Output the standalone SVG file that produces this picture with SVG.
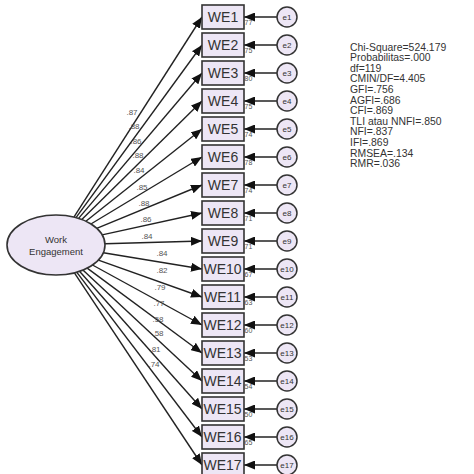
<svg xmlns="http://www.w3.org/2000/svg" width="474" height="474" viewBox="0 0 474 474">
<defs>
<marker id="ah" markerUnits="userSpaceOnUse" markerWidth="11" markerHeight="9" refX="11" refY="4.5" orient="auto"><path d="M0,0 L11,4.5 L0,9 z" fill="#111"/></marker>
<style>
.ln{stroke:#222;stroke-width:1.4;fill:none;marker-end:url(#ah)}
.bx{fill:#ede6f5;stroke:#333;stroke-width:1.6}
.er{fill:#ede6f5;stroke:#333;stroke-width:1.5}
.bt{font-family:"Liberation Sans",Arial,sans-serif;font-size:14px;fill:#333;text-anchor:middle}
.et{font-family:"Liberation Sans",Arial,sans-serif;font-size:8px;fill:#333;text-anchor:middle}
.lt{font-family:"Liberation Sans",Arial,sans-serif;font-size:9.5px;fill:#333;text-anchor:middle}
.lb{font-family:"Liberation Sans",Arial,sans-serif;font-size:8px;fill:#555;text-anchor:middle}
.sv{font-family:"Liberation Sans",Arial,sans-serif;font-size:7px;fill:#555}
.st{font-family:"Liberation Sans",Arial,sans-serif;font-size:10.4px;fill:#333}
</style>
</defs>
<rect width="474" height="474" fill="#fff"/>
<g id="connectors">
<line class="ln" x1="73.9" y1="217.1" x2="202" y2="17"/>
<line class="ln" x1="76.0" y1="217.6" x2="202" y2="45"/>
<line class="ln" x1="78.6" y1="218.4" x2="202" y2="73"/>
<line class="ln" x1="81.8" y1="219.5" x2="202" y2="101"/>
<line class="ln" x1="85.9" y1="221.2" x2="202" y2="129"/>
<line class="ln" x1="90.9" y1="224.0" x2="202" y2="157"/>
<line class="ln" x1="96.7" y1="228.3" x2="202" y2="185"/>
<line class="ln" x1="102.1" y1="234.9" x2="202" y2="213"/>
<line class="ln" x1="105.0" y1="243.7" x2="202" y2="241"/>
<line class="ln" x1="103.3" y1="252.8" x2="202" y2="269"/>
<line class="ln" x1="98.4" y1="260.1" x2="202" y2="297"/>
<line class="ln" x1="92.5" y1="265.0" x2="202" y2="325"/>
<line class="ln" x1="87.2" y1="268.1" x2="202" y2="353"/>
<line class="ln" x1="82.9" y1="270.1" x2="202" y2="381"/>
<line class="ln" x1="79.5" y1="271.3" x2="202" y2="409"/>
<line class="ln" x1="76.7" y1="272.2" x2="202" y2="437"/>
<line class="ln" x1="74.4" y1="272.8" x2="202" y2="465"/>
<line class="ln" x1="277" y1="17" x2="244" y2="17"/>
<line class="ln" x1="277" y1="45" x2="244" y2="45"/>
<line class="ln" x1="277" y1="73" x2="244" y2="73"/>
<line class="ln" x1="277" y1="101" x2="244" y2="101"/>
<line class="ln" x1="277" y1="129" x2="244" y2="129"/>
<line class="ln" x1="277" y1="157" x2="244" y2="157"/>
<line class="ln" x1="277" y1="185" x2="244" y2="185"/>
<line class="ln" x1="277" y1="213" x2="244" y2="213"/>
<line class="ln" x1="277" y1="241" x2="244" y2="241"/>
<line class="ln" x1="277" y1="269" x2="244" y2="269"/>
<line class="ln" x1="277" y1="297" x2="244" y2="297"/>
<line class="ln" x1="277" y1="325" x2="244" y2="325"/>
<line class="ln" x1="277" y1="353" x2="244" y2="353"/>
<line class="ln" x1="277" y1="381" x2="244" y2="381"/>
<line class="ln" x1="277" y1="409" x2="244" y2="409"/>
<line class="ln" x1="277" y1="437" x2="244" y2="437"/>
<line class="ln" x1="277" y1="465" x2="244" y2="465"/>
<g id="loadings">
<text class="lb" x="132" y="115">.87</text>
<text class="lb" x="134" y="129">.88</text>
<text class="lb" x="136" y="144">.86</text>
<text class="lb" x="138" y="158">.88</text>
<text class="lb" x="139" y="173">.84</text>
<text class="lb" x="142" y="190">.85</text>
<text class="lb" x="144" y="206">.88</text>
<text class="lb" x="146" y="222">.86</text>
<text class="lb" x="147" y="239">.84</text>
<text class="lb" x="162" y="256">.84</text>
<text class="lb" x="162" y="273">.82</text>
<text class="lb" x="160" y="290">.79</text>
<text class="lb" x="159" y="306">.77</text>
<text class="lb" x="158" y="322">.58</text>
<text class="lb" x="158" y="336">.58</text>
<text class="lb" x="155" y="352">.81</text>
<text class="lb" x="154" y="367">.74</text>
</g>
<g id="variances">
<text class="sv" x="244.5" y="25">77</text>
<text class="sv" x="244.5" y="53">75</text>
<text class="sv" x="244.5" y="81">80</text>
<text class="sv" x="244.5" y="109">75</text>
<text class="sv" x="244.5" y="137">74</text>
<text class="sv" x="244.5" y="165">78</text>
<text class="sv" x="244.5" y="193">74</text>
<text class="sv" x="244.5" y="221">71</text>
<text class="sv" x="244.5" y="249">71</text>
<text class="sv" x="244.5" y="277">67</text>
<text class="sv" x="244.5" y="305">63</text>
<text class="sv" x="244.5" y="333">60</text>
<text class="sv" x="244.5" y="361">53</text>
<text class="sv" x="244.5" y="389">54</text>
<text class="sv" x="244.5" y="417">50</text>
<text class="sv" x="244.5" y="445">65</text>
</g>
</g>
<g id="work-engagement">
<ellipse cx="56" cy="245" rx="49" ry="30" fill="#ede6f5" stroke="#333" stroke-width="1.6"/>
<text class="lt" x="56" y="243">Work</text>
<text class="lt" x="56" y="255">Engagement</text>
</g>
<g id="WE1"><rect class="bx" x="202" y="5" width="42" height="24"/><text class="bt" x="223" y="22">WE1</text></g>
<g id="WE2"><rect class="bx" x="202" y="33" width="42" height="24"/><text class="bt" x="223" y="50">WE2</text></g>
<g id="WE3"><rect class="bx" x="202" y="61" width="42" height="24"/><text class="bt" x="223" y="78">WE3</text></g>
<g id="WE4"><rect class="bx" x="202" y="89" width="42" height="24"/><text class="bt" x="223" y="106">WE4</text></g>
<g id="WE5"><rect class="bx" x="202" y="117" width="42" height="24"/><text class="bt" x="223" y="134">WE5</text></g>
<g id="WE6"><rect class="bx" x="202" y="145" width="42" height="24"/><text class="bt" x="223" y="162">WE6</text></g>
<g id="WE7"><rect class="bx" x="202" y="173" width="42" height="24"/><text class="bt" x="223" y="190">WE7</text></g>
<g id="WE8"><rect class="bx" x="202" y="201" width="42" height="24"/><text class="bt" x="223" y="218">WE8</text></g>
<g id="WE9"><rect class="bx" x="202" y="229" width="42" height="24"/><text class="bt" x="223" y="246">WE9</text></g>
<g id="WE10"><rect class="bx" x="202" y="257" width="42" height="24"/><text class="bt" x="222.5" y="274">WE10</text></g>
<g id="WE11"><rect class="bx" x="202" y="285" width="42" height="24"/><text class="bt" x="222.5" y="302">WE11</text></g>
<g id="WE12"><rect class="bx" x="202" y="313" width="42" height="24"/><text class="bt" x="222.5" y="330">WE12</text></g>
<g id="WE13"><rect class="bx" x="202" y="341" width="42" height="24"/><text class="bt" x="222.5" y="358">WE13</text></g>
<g id="WE14"><rect class="bx" x="202" y="369" width="42" height="24"/><text class="bt" x="222.5" y="386">WE14</text></g>
<g id="WE15"><rect class="bx" x="202" y="397" width="42" height="24"/><text class="bt" x="222.5" y="414">WE15</text></g>
<g id="WE16"><rect class="bx" x="202" y="425" width="42" height="24"/><text class="bt" x="222.5" y="442">WE16</text></g>
<g id="WE17"><rect class="bx" x="202" y="453" width="42" height="24"/><text class="bt" x="222.5" y="470">WE17</text></g>
<g id="e1"><circle class="er" cx="287" cy="17" r="10"/><text class="et" x="287" y="20">e1</text></g>
<g id="e2"><circle class="er" cx="287" cy="45" r="10"/><text class="et" x="287" y="48">e2</text></g>
<g id="e3"><circle class="er" cx="287" cy="73" r="10"/><text class="et" x="287" y="76">e3</text></g>
<g id="e4"><circle class="er" cx="287" cy="101" r="10"/><text class="et" x="287" y="104">e4</text></g>
<g id="e5"><circle class="er" cx="287" cy="129" r="10"/><text class="et" x="287" y="132">e5</text></g>
<g id="e6"><circle class="er" cx="287" cy="157" r="10"/><text class="et" x="287" y="160">e6</text></g>
<g id="e7"><circle class="er" cx="287" cy="185" r="10"/><text class="et" x="287" y="188">e7</text></g>
<g id="e8"><circle class="er" cx="287" cy="213" r="10"/><text class="et" x="287" y="216">e8</text></g>
<g id="e9"><circle class="er" cx="287" cy="241" r="10"/><text class="et" x="287" y="244">e9</text></g>
<g id="e10"><circle class="er" cx="287" cy="269" r="10"/><text class="et" x="287" y="272">e10</text></g>
<g id="e11"><circle class="er" cx="287" cy="297" r="10"/><text class="et" x="287" y="300">e11</text></g>
<g id="e12"><circle class="er" cx="287" cy="325" r="10"/><text class="et" x="287" y="328">e12</text></g>
<g id="e13"><circle class="er" cx="287" cy="353" r="10"/><text class="et" x="287" y="356">e13</text></g>
<g id="e14"><circle class="er" cx="287" cy="381" r="10"/><text class="et" x="287" y="384">e14</text></g>
<g id="e15"><circle class="er" cx="287" cy="409" r="10"/><text class="et" x="287" y="412">e15</text></g>
<g id="e16"><circle class="er" cx="287" cy="437" r="10"/><text class="et" x="287" y="440">e16</text></g>
<g id="e17"><circle class="er" cx="287" cy="465" r="10"/><text class="et" x="287" y="468">e17</text></g>
<g id="fit-stats">
<text class="st" x="350" y="50.5">Chi-Square=524.179</text>
<text class="st" x="350" y="61.1">Probabilitas=.000</text>
<text class="st" x="350" y="71.7">df=119</text>
<text class="st" x="350" y="82.3">CMIN/DF=4.405</text>
<text class="st" x="350" y="92.9">GFI=.756</text>
<text class="st" x="350" y="103.5">AGFI=.686</text>
<text class="st" x="350" y="114.1">CFI=.869</text>
<text class="st" x="350" y="124.7">TLI atau NNFI=.850</text>
<text class="st" x="350" y="135.3">NFI=.837</text>
<text class="st" x="350" y="145.9">IFI=.869</text>
<text class="st" x="350" y="156.5">RMSEA=.134</text>
<text class="st" x="350" y="167.1">RMR=.036</text>
</g>
</svg>
